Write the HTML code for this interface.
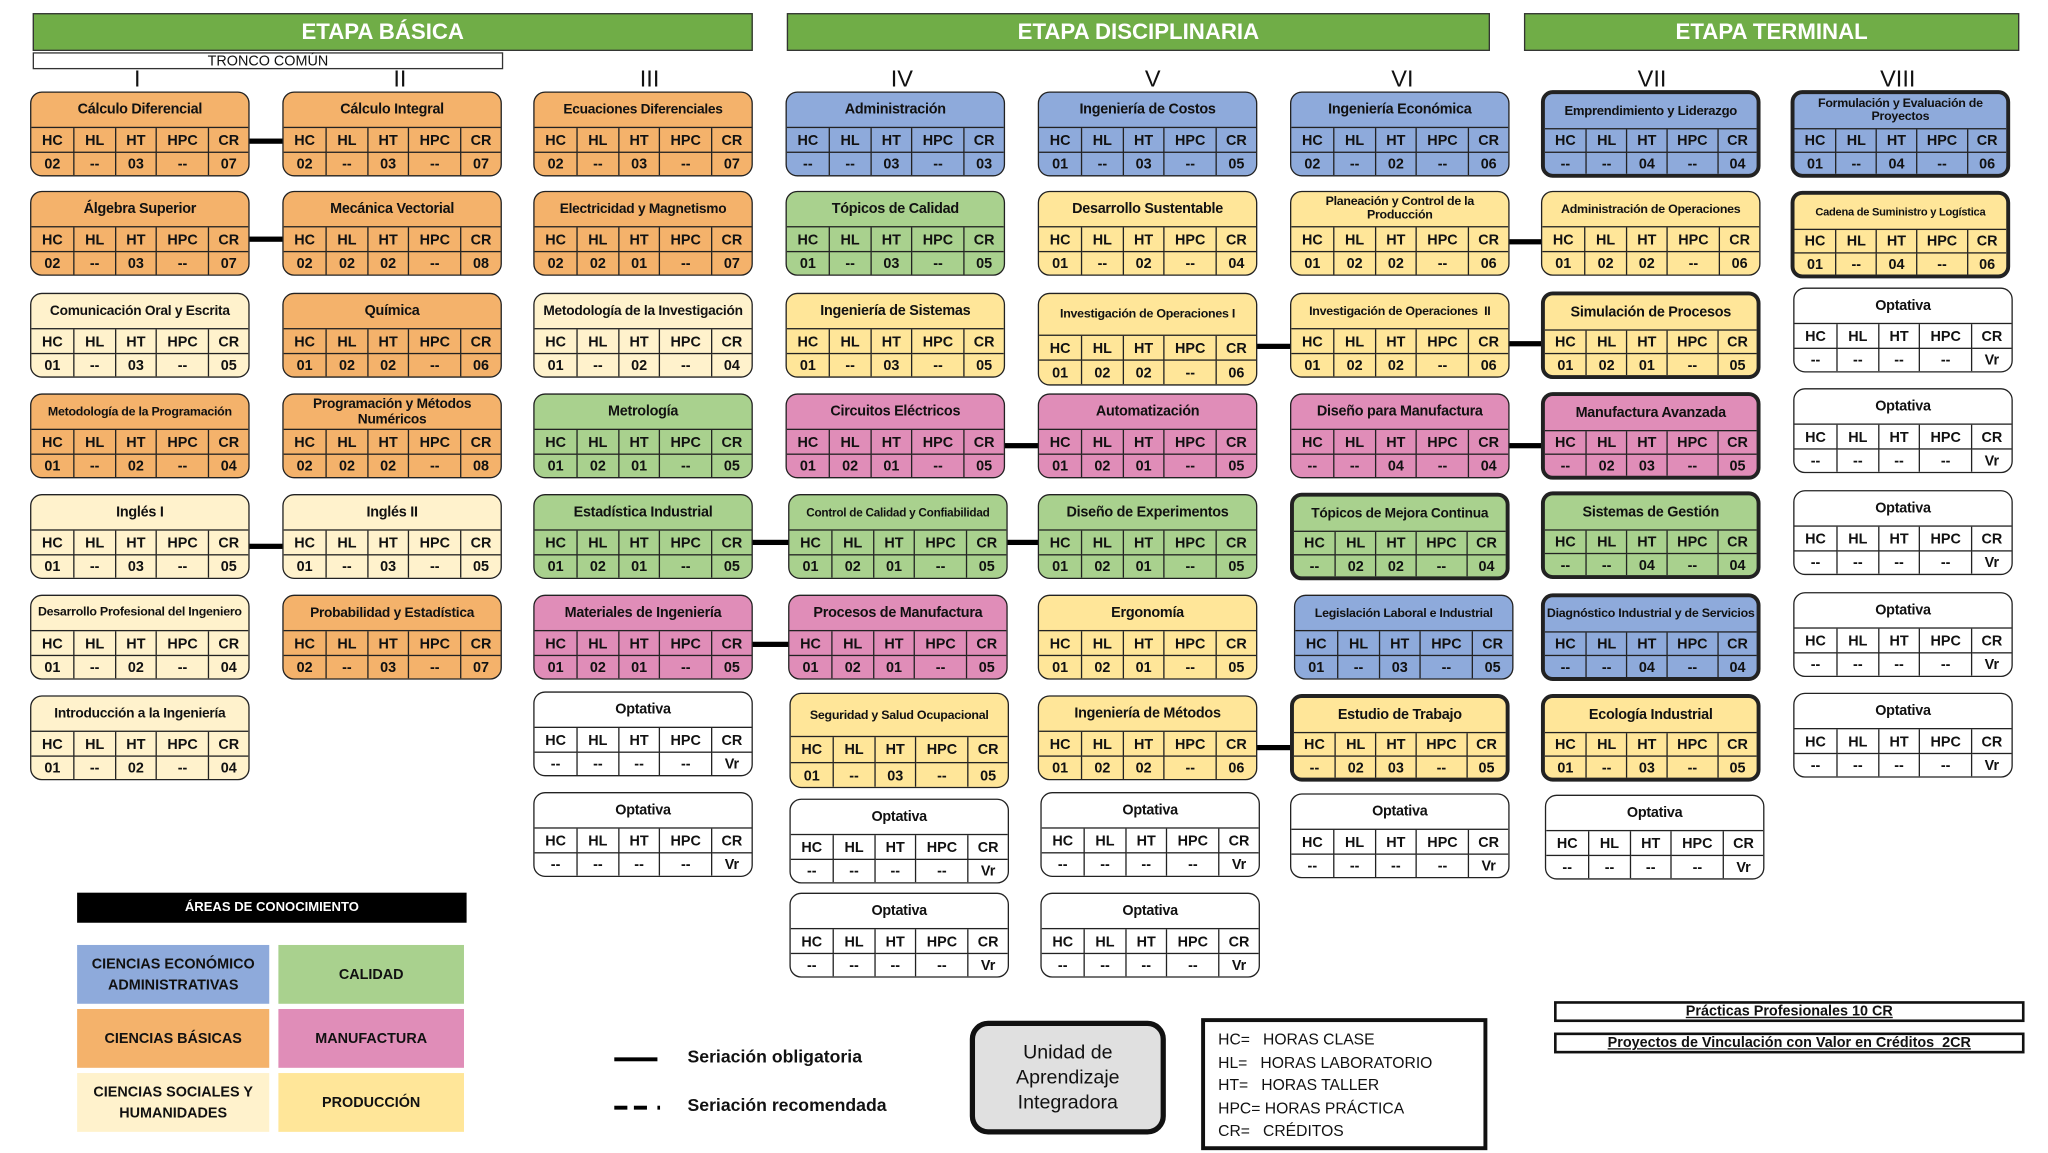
<!DOCTYPE html>
<html><head><meta charset="utf-8">
<style>
html,body{margin:0;padding:0;background:#fff;width:2048px;height:1152px;overflow:hidden}
#w{position:absolute;left:0;top:0;width:1570px;height:882px;transform:scale(1.307);transform-origin:0 0;font-family:"Liberation Sans",sans-serif;font-weight:bold;color:#111}
.c{position:absolute;width:168px;height:65px;border:1.5px solid #222;border-radius:9px;overflow:hidden;box-sizing:border-box;display:flex;flex-direction:column}
.c.k{border-width:3.5px}
.t{height:26px;flex:0 0 26px;border-bottom:1.5px solid #222;display:flex;align-items:center;justify-content:center;text-align:center;font-size:11px;line-height:11px;white-space:nowrap;overflow:hidden;letter-spacing:-0.2px}
.t.s{font-size:9.5px;line-height:10px;white-space:normal}
.g{flex:1;display:grid;grid-template-columns:20% 19% 19% 24% 18%;grid-template-rows:52% 48%}
.g span{border-right:1px solid #222;display:flex;align-items:center;justify-content:center;font-size:11px;padding-top:2px;box-sizing:border-box}
.g span:nth-child(5n){border-right:none}
.g span:nth-child(-n+5){border-bottom:1.5px solid #222}
.o{background:#f4b26b}.b{background:#8eaadb}.gr{background:#a9d18e}.p{background:#e08db8}.cr{background:#fff2cc}.y{background:#ffe699}.wh{background:#fff}
.ln{position:absolute;height:3.5px;background:#000}
.et{position:absolute;top:10px;height:29px;background:#70ad47;border:1.5px solid #333;box-sizing:border-box;color:#fff;font-size:17px;display:flex;align-items:center;justify-content:center}
.rn{position:absolute;top:50px;font-size:18px;font-weight:normal;transform:translateX(-50%)}
.sw{position:absolute;width:147px;height:45px;display:flex;align-items:center;justify-content:center;text-align:center;font-size:11px;line-height:16px}
.m{font-size:9.5px}
</style></head><body><div id="w">
<div class="et" style="left:25px;width:551px;justify-content:flex-end;padding-right:220px">ETAPA BÁSICA</div>
<div style="position:absolute;left:25px;top:40px;width:360px;height:13px;border:1.5px solid #333;box-sizing:border-box;font-size:11px;font-weight:normal;text-align:center;line-height:12px">TRONCO COMÚN</div>
<div class="et" style="left:602px;width:538px">ETAPA DISCIPLINARIA</div>
<div class="et" style="left:1166px;width:379px">ETAPA TERMINAL</div>
<div class="rn" style="left:105px">I</div><div class="rn" style="left:306px">II</div><div class="rn" style="left:497px">III</div><div class="rn" style="left:690px">IV</div><div class="rn" style="left:882px">V</div><div class="rn" style="left:1073px">VI</div><div class="rn" style="left:1264px">VII</div><div class="rn" style="left:1452px">VIII</div>

<div class="ln" style="left:190px;top:106px;width:28px"></div>
<div class="ln" style="left:190px;top:181px;width:28px"></div>
<div class="ln" style="left:190px;top:416px;width:28px"></div>
<div class="ln" style="left:574px;top:413px;width:30px"></div>
<div class="ln" style="left:768px;top:413px;width:28px"></div>
<div class="ln" style="left:574px;top:491px;width:30px"></div>
<div class="ln" style="left:768px;top:339px;width:28px"></div>
<div class="ln" style="left:960px;top:263px;width:28px"></div>
<div class="ln" style="left:1153px;top:261px;width:28px"></div>
<div class="ln" style="left:1153px;top:339px;width:28px"></div>
<div class="ln" style="left:1153px;top:183px;width:28px"></div>
<div class="ln" style="left:960px;top:570px;width:30px"></div>

<div class="c o" style="left:23px;top:70px"><div class="t">Cálculo Diferencial</div><div class="g"><span>HC</span><span>HL</span><span>HT</span><span>HPC</span><span>CR</span><span>02</span><span>--</span><span>03</span><span>--</span><span>07</span></div></div>
<div class="c o" style="left:23px;top:146px"><div class="t">Álgebra Superior</div><div class="g"><span>HC</span><span>HL</span><span>HT</span><span>HPC</span><span>CR</span><span>02</span><span>--</span><span>03</span><span>--</span><span>07</span></div></div>
<div class="c cr" style="left:23px;top:224px"><div class="t m" style="font-size:10.5px">Comunicación Oral y Escrita</div><div class="g"><span>HC</span><span>HL</span><span>HT</span><span>HPC</span><span>CR</span><span>01</span><span>--</span><span>03</span><span>--</span><span>05</span></div></div>
<div class="c o" style="left:23px;top:301px"><div class="t m">Metodología de la Programación</div><div class="g"><span>HC</span><span>HL</span><span>HT</span><span>HPC</span><span>CR</span><span>01</span><span>--</span><span>02</span><span>--</span><span>04</span></div></div>
<div class="c cr" style="left:23px;top:378px"><div class="t">Inglés I</div><div class="g"><span>HC</span><span>HL</span><span>HT</span><span>HPC</span><span>CR</span><span>01</span><span>--</span><span>03</span><span>--</span><span>05</span></div></div>
<div class="c cr" style="left:23px;top:455px"><div class="t s">Desarrollo Profesional del Ingeniero</div><div class="g"><span>HC</span><span>HL</span><span>HT</span><span>HPC</span><span>CR</span><span>01</span><span>--</span><span>02</span><span>--</span><span>04</span></div></div>
<div class="c cr" style="left:23px;top:532px"><div class="t" style="font-size:10.5px">Introducción a la Ingeniería</div><div class="g"><span>HC</span><span>HL</span><span>HT</span><span>HPC</span><span>CR</span><span>01</span><span>--</span><span>02</span><span>--</span><span>04</span></div></div>

<div class="c o" style="left:216px;top:70px"><div class="t">Cálculo Integral</div><div class="g"><span>HC</span><span>HL</span><span>HT</span><span>HPC</span><span>CR</span><span>02</span><span>--</span><span>03</span><span>--</span><span>07</span></div></div>
<div class="c o" style="left:216px;top:146px"><div class="t">Mecánica Vectorial</div><div class="g"><span>HC</span><span>HL</span><span>HT</span><span>HPC</span><span>CR</span><span>02</span><span>02</span><span>02</span><span>--</span><span>08</span></div></div>
<div class="c o" style="left:216px;top:224px"><div class="t">Química</div><div class="g"><span>HC</span><span>HL</span><span>HT</span><span>HPC</span><span>CR</span><span>01</span><span>02</span><span>02</span><span>--</span><span>06</span></div></div>
<div class="c o" style="left:216px;top:301px"><div class="t s" style="font-size:10.5px;line-height:12px">Programación y Métodos Numéricos</div><div class="g"><span>HC</span><span>HL</span><span>HT</span><span>HPC</span><span>CR</span><span>02</span><span>02</span><span>02</span><span>--</span><span>08</span></div></div>
<div class="c cr" style="left:216px;top:378px"><div class="t">Inglés II</div><div class="g"><span>HC</span><span>HL</span><span>HT</span><span>HPC</span><span>CR</span><span>01</span><span>--</span><span>03</span><span>--</span><span>05</span></div></div>
<div class="c o" style="left:216px;top:455px"><div class="t" style="font-size:10.5px">Probabilidad y Estadística</div><div class="g"><span>HC</span><span>HL</span><span>HT</span><span>HPC</span><span>CR</span><span>02</span><span>--</span><span>03</span><span>--</span><span>07</span></div></div>

<div class="c o" style="left:408px;top:70px"><div class="t" style="font-size:10.5px">Ecuaciones Diferenciales</div><div class="g"><span>HC</span><span>HL</span><span>HT</span><span>HPC</span><span>CR</span><span>02</span><span>--</span><span>03</span><span>--</span><span>07</span></div></div>
<div class="c o" style="left:408px;top:146px"><div class="t" style="font-size:10.5px">Electricidad y Magnetismo</div><div class="g"><span>HC</span><span>HL</span><span>HT</span><span>HPC</span><span>CR</span><span>02</span><span>02</span><span>01</span><span>--</span><span>07</span></div></div>
<div class="c cr" style="left:408px;top:224px"><div class="t s" style="font-size:10.5px;line-height:12px">Metodología de la Investigación</div><div class="g"><span>HC</span><span>HL</span><span>HT</span><span>HPC</span><span>CR</span><span>01</span><span>--</span><span>02</span><span>--</span><span>04</span></div></div>
<div class="c gr" style="left:408px;top:301px"><div class="t">Metrología</div><div class="g"><span>HC</span><span>HL</span><span>HT</span><span>HPC</span><span>CR</span><span>01</span><span>02</span><span>01</span><span>--</span><span>05</span></div></div>
<div class="c gr" style="left:408px;top:378px"><div class="t">Estadística Industrial</div><div class="g"><span>HC</span><span>HL</span><span>HT</span><span>HPC</span><span>CR</span><span>01</span><span>02</span><span>01</span><span>--</span><span>05</span></div></div>
<div class="c p" style="left:408px;top:455px"><div class="t">Materiales de Ingeniería</div><div class="g"><span>HC</span><span>HL</span><span>HT</span><span>HPC</span><span>CR</span><span>01</span><span>02</span><span>01</span><span>--</span><span>05</span></div></div>
<div class="c wh" style="left:408px;top:529px"><div class="t">Optativa</div><div class="g"><span>HC</span><span>HL</span><span>HT</span><span>HPC</span><span>CR</span><span>--</span><span>--</span><span>--</span><span>--</span><span>Vr</span></div></div>
<div class="c wh" style="left:408px;top:606px"><div class="t">Optativa</div><div class="g"><span>HC</span><span>HL</span><span>HT</span><span>HPC</span><span>CR</span><span>--</span><span>--</span><span>--</span><span>--</span><span>Vr</span></div></div>

<div class="c b" style="left:601px;top:70px"><div class="t">Administración</div><div class="g"><span>HC</span><span>HL</span><span>HT</span><span>HPC</span><span>CR</span><span>--</span><span>--</span><span>03</span><span>--</span><span>03</span></div></div>
<div class="c gr" style="left:601px;top:146px"><div class="t">Tópicos de Calidad</div><div class="g"><span>HC</span><span>HL</span><span>HT</span><span>HPC</span><span>CR</span><span>01</span><span>--</span><span>03</span><span>--</span><span>05</span></div></div>
<div class="c y" style="left:601px;top:224px"><div class="t">Ingeniería de Sistemas</div><div class="g"><span>HC</span><span>HL</span><span>HT</span><span>HPC</span><span>CR</span><span>01</span><span>--</span><span>03</span><span>--</span><span>05</span></div></div>
<div class="c p" style="left:601px;top:301px"><div class="t">Circuitos Eléctricos</div><div class="g"><span>HC</span><span>HL</span><span>HT</span><span>HPC</span><span>CR</span><span>01</span><span>02</span><span>01</span><span>--</span><span>05</span></div></div>
<div class="c gr" style="left:603px;top:378px"><div class="t" style="font-size:9px">Control de Calidad y Confiabilidad</div><div class="g"><span>HC</span><span>HL</span><span>HT</span><span>HPC</span><span>CR</span><span>01</span><span>02</span><span>01</span><span>--</span><span>05</span></div></div>
<div class="c p" style="left:603px;top:455px"><div class="t">Procesos de Manufactura</div><div class="g"><span>HC</span><span>HL</span><span>HT</span><span>HPC</span><span>CR</span><span>01</span><span>02</span><span>01</span><span>--</span><span>05</span></div></div>
<div class="c y" style="left:604px;top:530px;height:73px"><div class="t" style="flex-basis:32px;height:32px;font-size:9.5px">Seguridad y Salud Ocupacional</div><div class="g"><span>HC</span><span>HL</span><span>HT</span><span>HPC</span><span>CR</span><span>01</span><span>--</span><span>03</span><span>--</span><span>05</span></div></div>
<div class="c wh" style="left:604px;top:611px"><div class="t">Optativa</div><div class="g"><span>HC</span><span>HL</span><span>HT</span><span>HPC</span><span>CR</span><span>--</span><span>--</span><span>--</span><span>--</span><span>Vr</span></div></div>
<div class="c wh" style="left:604px;top:683px"><div class="t">Optativa</div><div class="g"><span>HC</span><span>HL</span><span>HT</span><span>HPC</span><span>CR</span><span>--</span><span>--</span><span>--</span><span>--</span><span>Vr</span></div></div>

<div class="c b" style="left:794px;top:70px"><div class="t">Ingeniería de Costos</div><div class="g"><span>HC</span><span>HL</span><span>HT</span><span>HPC</span><span>CR</span><span>01</span><span>--</span><span>03</span><span>--</span><span>05</span></div></div>
<div class="c y" style="left:794px;top:146px"><div class="t">Desarrollo Sustentable</div><div class="g"><span>HC</span><span>HL</span><span>HT</span><span>HPC</span><span>CR</span><span>01</span><span>--</span><span>02</span><span>--</span><span>04</span></div></div>
<div class="c y" style="left:794px;top:224px;height:71px"><div class="t" style="flex-basis:31px;height:31px;font-size:9.5px">Investigación de Operaciones I</div><div class="g"><span>HC</span><span>HL</span><span>HT</span><span>HPC</span><span>CR</span><span>01</span><span>02</span><span>02</span><span>--</span><span>06</span></div></div>
<div class="c p" style="left:794px;top:301px"><div class="t">Automatización</div><div class="g"><span>HC</span><span>HL</span><span>HT</span><span>HPC</span><span>CR</span><span>01</span><span>02</span><span>01</span><span>--</span><span>05</span></div></div>
<div class="c gr" style="left:794px;top:378px"><div class="t">Diseño de Experimentos</div><div class="g"><span>HC</span><span>HL</span><span>HT</span><span>HPC</span><span>CR</span><span>01</span><span>02</span><span>01</span><span>--</span><span>05</span></div></div>
<div class="c y" style="left:794px;top:455px"><div class="t">Ergonomía</div><div class="g"><span>HC</span><span>HL</span><span>HT</span><span>HPC</span><span>CR</span><span>01</span><span>02</span><span>01</span><span>--</span><span>05</span></div></div>
<div class="c y" style="left:794px;top:532px"><div class="t">Ingeniería de Métodos</div><div class="g"><span>HC</span><span>HL</span><span>HT</span><span>HPC</span><span>CR</span><span>01</span><span>02</span><span>02</span><span>--</span><span>06</span></div></div>
<div class="c wh" style="left:796px;top:606px"><div class="t">Optativa</div><div class="g"><span>HC</span><span>HL</span><span>HT</span><span>HPC</span><span>CR</span><span>--</span><span>--</span><span>--</span><span>--</span><span>Vr</span></div></div>
<div class="c wh" style="left:796px;top:683px"><div class="t">Optativa</div><div class="g"><span>HC</span><span>HL</span><span>HT</span><span>HPC</span><span>CR</span><span>--</span><span>--</span><span>--</span><span>--</span><span>Vr</span></div></div>

<div class="c b" style="left:987px;top:70px"><div class="t">Ingeniería Económica</div><div class="g"><span>HC</span><span>HL</span><span>HT</span><span>HPC</span><span>CR</span><span>02</span><span>--</span><span>02</span><span>--</span><span>06</span></div></div>
<div class="c y" style="left:987px;top:146px"><div class="t s">Planeación y Control de la Producción</div><div class="g"><span>HC</span><span>HL</span><span>HT</span><span>HPC</span><span>CR</span><span>01</span><span>02</span><span>02</span><span>--</span><span>06</span></div></div>
<div class="c y" style="left:987px;top:224px"><div class="t" style="font-size:9.5px">Investigación de Operaciones&nbsp; II</div><div class="g"><span>HC</span><span>HL</span><span>HT</span><span>HPC</span><span>CR</span><span>01</span><span>02</span><span>02</span><span>--</span><span>06</span></div></div>
<div class="c p" style="left:987px;top:301px"><div class="t">Diseño para Manufactura</div><div class="g"><span>HC</span><span>HL</span><span>HT</span><span>HPC</span><span>CR</span><span>--</span><span>--</span><span>04</span><span>--</span><span>04</span></div></div>
<div class="c gr k" style="left:987px;top:377px;height:67px"><div class="t" style="font-size:10.5px">Tópicos de Mejora Continua</div><div class="g"><span>HC</span><span>HL</span><span>HT</span><span>HPC</span><span>CR</span><span>--</span><span>02</span><span>02</span><span>--</span><span>04</span></div></div>
<div class="c b" style="left:990px;top:455px"><div class="t" style="font-size:9.5px">Legislación Laboral e Industrial</div><div class="g"><span>HC</span><span>HL</span><span>HT</span><span>HPC</span><span>CR</span><span>01</span><span>--</span><span>03</span><span>--</span><span>05</span></div></div>
<div class="c y k" style="left:987px;top:531px;height:67px"><div class="t">Estudio de Trabajo</div><div class="g"><span>HC</span><span>HL</span><span>HT</span><span>HPC</span><span>CR</span><span>--</span><span>02</span><span>03</span><span>--</span><span>05</span></div></div>
<div class="c wh" style="left:987px;top:607px"><div class="t">Optativa</div><div class="g"><span>HC</span><span>HL</span><span>HT</span><span>HPC</span><span>CR</span><span>--</span><span>--</span><span>--</span><span>--</span><span>Vr</span></div></div>

<div class="c b k" style="left:1179px;top:69px;height:67px"><div class="t" style="font-size:10px">Emprendimiento y Liderazgo</div><div class="g"><span>HC</span><span>HL</span><span>HT</span><span>HPC</span><span>CR</span><span>--</span><span>--</span><span>04</span><span>--</span><span>04</span></div></div>
<div class="c y" style="left:1179px;top:146px"><div class="t" style="font-size:9.5px">Administración de Operaciones</div><div class="g"><span>HC</span><span>HL</span><span>HT</span><span>HPC</span><span>CR</span><span>01</span><span>02</span><span>02</span><span>--</span><span>06</span></div></div>
<div class="c y k" style="left:1179px;top:223px;height:67px"><div class="t">Simulación de Procesos</div><div class="g"><span>HC</span><span>HL</span><span>HT</span><span>HPC</span><span>CR</span><span>01</span><span>02</span><span>01</span><span>--</span><span>05</span></div></div>
<div class="c p k" style="left:1179px;top:300px;height:67px"><div class="t">Manufactura Avanzada</div><div class="g"><span>HC</span><span>HL</span><span>HT</span><span>HPC</span><span>CR</span><span>--</span><span>02</span><span>03</span><span>--</span><span>05</span></div></div>
<div class="c gr k" style="left:1179px;top:376px;height:67px"><div class="t">Sistemas de Gestión</div><div class="g"><span>HC</span><span>HL</span><span>HT</span><span>HPC</span><span>CR</span><span>--</span><span>--</span><span>04</span><span>--</span><span>04</span></div></div>
<div class="c b k" style="left:1179px;top:454px;height:67px"><div class="t s">Diagnóstico Industrial y de Servicios</div><div class="g"><span>HC</span><span>HL</span><span>HT</span><span>HPC</span><span>CR</span><span>--</span><span>--</span><span>04</span><span>--</span><span>04</span></div></div>
<div class="c y k" style="left:1179px;top:531px;height:67px"><div class="t">Ecología Industrial</div><div class="g"><span>HC</span><span>HL</span><span>HT</span><span>HPC</span><span>CR</span><span>01</span><span>--</span><span>03</span><span>--</span><span>05</span></div></div>
<div class="c wh" style="left:1182px;top:608px"><div class="t">Optativa</div><div class="g"><span>HC</span><span>HL</span><span>HT</span><span>HPC</span><span>CR</span><span>--</span><span>--</span><span>--</span><span>--</span><span>Vr</span></div></div>

<div class="c b k" style="left:1370px;top:69px;height:67px"><div class="t s">Formulación y Evaluación de Proyectos</div><div class="g"><span>HC</span><span>HL</span><span>HT</span><span>HPC</span><span>CR</span><span>01</span><span>--</span><span>04</span><span>--</span><span>06</span></div></div>
<div class="c y k" style="left:1370px;top:146px;height:67px"><div class="t" style="font-size:8.5px">Cadena de Suministro y Logística</div><div class="g"><span>HC</span><span>HL</span><span>HT</span><span>HPC</span><span>CR</span><span>01</span><span>--</span><span>04</span><span>--</span><span>06</span></div></div>
<div class="c wh" style="left:1372px;top:220px"><div class="t">Optativa</div><div class="g"><span>HC</span><span>HL</span><span>HT</span><span>HPC</span><span>CR</span><span>--</span><span>--</span><span>--</span><span>--</span><span>Vr</span></div></div>
<div class="c wh" style="left:1372px;top:297px"><div class="t">Optativa</div><div class="g"><span>HC</span><span>HL</span><span>HT</span><span>HPC</span><span>CR</span><span>--</span><span>--</span><span>--</span><span>--</span><span>Vr</span></div></div>
<div class="c wh" style="left:1372px;top:375px"><div class="t">Optativa</div><div class="g"><span>HC</span><span>HL</span><span>HT</span><span>HPC</span><span>CR</span><span>--</span><span>--</span><span>--</span><span>--</span><span>Vr</span></div></div>
<div class="c wh" style="left:1372px;top:453px"><div class="t">Optativa</div><div class="g"><span>HC</span><span>HL</span><span>HT</span><span>HPC</span><span>CR</span><span>--</span><span>--</span><span>--</span><span>--</span><span>Vr</span></div></div>
<div class="c wh" style="left:1372px;top:530px"><div class="t">Optativa</div><div class="g"><span>HC</span><span>HL</span><span>HT</span><span>HPC</span><span>CR</span><span>--</span><span>--</span><span>--</span><span>--</span><span>Vr</span></div></div>

<div style="position:absolute;left:59px;top:683px;width:298px;height:23px;background:#000;color:#fff;font-size:10px;display:flex;align-items:center;justify-content:center">ÁREAS DE CONOCIMIENTO</div>
<div class="sw b" style="left:59px;top:723px">CIENCIAS ECONÓMICO<br>ADMINISTRATIVAS</div>
<div class="sw gr" style="left:213px;top:723px;width:142px">CALIDAD</div>
<div class="sw o" style="left:59px;top:772px">CIENCIAS BÁSICAS</div>
<div class="sw p" style="left:213px;top:772px;width:142px">MANUFACTURA</div>
<div class="sw cr" style="left:59px;top:821px">CIENCIAS SOCIALES Y<br>HUMANIDADES</div>
<div class="sw y" style="left:213px;top:821px;width:142px">PRODUCCIÓN</div>

<div style="position:absolute;left:470px;top:809px;width:33px;height:3px;background:#000"></div>
<div style="position:absolute;left:526px;top:801px;font-size:13.5px">Seriación obligatoria</div>
<div style="position:absolute;left:470px;top:846px;width:10px;height:3px;background:#000"></div>
<div style="position:absolute;left:485px;top:846px;width:10px;height:3px;background:#000"></div>
<div style="position:absolute;left:503px;top:846px;width:2px;height:3px;background:#000"></div>
<div style="position:absolute;left:526px;top:838px;font-size:13.5px">Seriación recomendada</div>

<div style="position:absolute;left:742px;top:781px;width:150px;height:87px;background:#e0e0e0;border:4px solid #111;border-radius:14px;box-sizing:border-box;display:flex;align-items:center;justify-content:center;text-align:center;font-size:15px;font-weight:normal;line-height:19px">Unidad de<br>Aprendizaje<br>Integradora</div>

<div style="position:absolute;left:919px;top:779px;width:219px;height:101px;border:3px solid #111;box-sizing:border-box;padding:5px 0 0 10px;font-size:12px;font-weight:normal;line-height:17.6px">HC=&nbsp;&nbsp; HORAS CLASE<br>HL=&nbsp;&nbsp; HORAS LABORATORIO<br>HT=&nbsp;&nbsp; HORAS TALLER<br>HPC= HORAS PRÁCTICA<br>CR=&nbsp;&nbsp; CRÉDITOS</div>

<div style="position:absolute;left:1189px;top:766px;width:360px;height:16px;border:2px solid #111;box-sizing:border-box;font-size:11px;text-align:center;line-height:13px;text-decoration:underline">Prácticas Profesionales 10 CR</div>
<div style="position:absolute;left:1189px;top:790px;width:360px;height:16px;border:2px solid #111;box-sizing:border-box;font-size:11px;text-align:center;line-height:13px;text-decoration:underline">Proyectos de Vinculación con Valor en Créditos&nbsp; 2CR</div>
</div></body></html>
